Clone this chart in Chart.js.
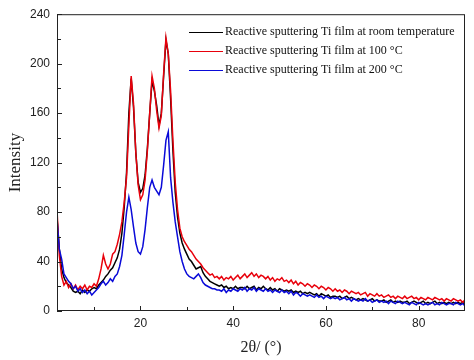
<!DOCTYPE html>
<html>
<head>
<meta charset="utf-8">
<script src="https://cdn.jsdelivr.net/npm/chart.js@4.4.1/dist/chart.umd.min.js"></script>
<style>
    html, body { margin: 0; padding: 0; background: #fff; }
</style>
</head>
<body>
<canvas id="xrdChart" width="474" height="360"></canvas>
<script>
let twoTheta = [
    2, 2.5, 3, 3.5, 4, 4.5, 5, 5.5, 6, 6.5, 7, 7.5, 8, 8.5, 9, 9.5, 10, 10.5, 11, 11.5,
    12, 12.5, 13, 13.5, 14, 14.5, 15, 15.5, 16, 16.5, 17, 17.5, 18, 18.5, 19, 19.5, 20, 20.5, 21, 21.5,
    22, 22.5, 23, 23.5, 24, 24.5, 25, 25.5, 26, 26.5, 27, 27.5, 28, 28.5, 29, 29.5, 30, 30.5, 31, 31.5,
    32, 32.5, 33, 33.5, 34, 34.5, 35, 35.5, 36, 36.5, 37, 37.5, 38, 38.5, 39, 39.5, 40, 40.5, 41, 41.5,
    42, 42.5, 43, 43.5, 44, 44.5, 45, 45.5, 46, 46.5, 47, 47.5, 48, 48.5, 49, 49.5, 50, 50.5, 51, 51.5,
    52, 52.5, 53, 53.5, 54, 54.5, 55, 55.5, 56, 56.5, 57, 57.5, 58, 58.5, 59, 59.5, 60, 60.5, 61, 61.5,
    62, 62.5, 63, 63.5, 64, 64.5, 65, 65.5, 66, 66.5, 67, 67.5, 68, 68.5, 69, 69.5, 70, 70.5, 71, 71.5,
    72, 72.5, 73, 73.5, 74, 74.5, 75, 75.5, 76, 76.5, 77, 77.5, 78, 78.5, 79, 79.5, 80, 80.5, 81, 81.5,
    82, 82.5, 83, 83.5, 84, 84.5, 85, 85.5, 86, 86.5, 87, 87.5, 88, 88.5, 89, 89.5, 90
];

let roomTemp = [
    76, 50, 34, 27, 23, 21, 19, 16, 15, 16, 14, 17, 15, 17, 16, 18, 19, 18, 21, 23,
    25, 28, 30, 33, 35, 39, 43, 50, 63, 84, 112, 160, 188, 165, 128, 104, 96, 99, 110, 132,
    160, 186, 178, 166, 150, 160, 190, 219, 208, 172, 130, 96, 76, 63, 55, 50, 46, 42, 40, 37,
    34, 35, 36, 31, 28, 26, 24, 23, 22, 21, 20, 21, 19, 20, 18, 19, 18, 20, 18, 19,
    19, 18, 20, 18, 19, 20, 17, 19, 18, 20, 18, 17, 19, 17, 18, 16, 18, 17, 16, 17,
    16, 17, 15, 16, 15, 16, 14, 15, 14, 15, 14, 13, 14, 12, 14, 13, 12, 13, 11, 12,
    12, 11, 12, 10, 11, 12, 10, 11, 10, 9, 10, 9, 10, 9, 8, 9, 10, 8, 9, 8,
    8, 9, 7, 8, 9, 7, 8, 7, 8, 7, 7, 8, 6, 7, 8, 7, 6, 7, 8, 6,
    7, 6, 7, 8, 6, 7, 6, 7, 6, 7, 6, 7, 6, 7, 6, 7, 5
];

let temp100 = [
    82, 45, 28, 21, 24, 19, 22, 18, 21, 17, 20, 18, 21, 17, 20, 19, 22, 20, 26, 34,
    45, 38, 34, 38, 46, 48, 54, 62, 72, 88, 108, 150, 190, 168, 128, 102, 90, 94, 106, 130,
    160, 190, 180, 162, 148, 158, 192, 221, 208, 178, 138, 104, 82, 67, 60, 56, 53, 50, 48, 45,
    42, 40, 38, 35, 33, 31, 29, 30, 27, 28, 26, 28, 25, 27, 26, 28, 25, 27, 29, 26,
    28, 30, 27, 29, 31, 28, 30, 27, 29, 28, 26, 28, 25, 27, 24, 26, 25, 27, 24, 25,
    23, 25, 22, 24, 21, 23, 22, 20, 22, 21, 19, 21, 20, 18, 20, 19, 17, 19, 18, 16,
    18, 16, 17, 15, 17, 16, 14, 16, 15, 14, 15, 13, 14, 15, 12, 14, 13, 12, 14, 12,
    13, 11, 12, 13, 11, 12, 10, 12, 11, 10, 12, 10, 11, 12, 10, 11, 9, 11, 10, 9,
    11, 10, 9, 11, 10, 9, 10, 8, 10, 9, 8, 10, 9, 8, 9, 7, 9
];

let temp200 = [
    74, 50, 42, 30, 27, 24, 22, 18, 20, 16, 18, 15, 17, 14, 16, 13, 15, 17, 19, 22,
    24, 21, 23, 26, 24, 28, 30, 36, 45, 62, 80, 92, 82, 68, 55, 48, 46, 52, 66, 84,
    100, 106, 100, 97, 94, 100, 118, 138, 145, 108, 88, 72, 60, 48, 40, 34, 30, 28, 27, 26,
    28, 30, 27, 23, 21, 20, 19, 18, 18, 17, 17, 16, 18, 15, 17, 16, 18, 17, 16, 18,
    17, 19, 16, 18, 17, 19, 16, 18, 17, 16, 18, 16, 17, 15, 17, 16, 15, 17, 15, 16,
    14, 16, 13, 15, 14, 12, 14, 13, 12, 13, 12, 11, 13, 11, 12, 10, 12, 11, 10, 11,
    10, 11, 9, 10, 11, 9, 10, 8, 10, 9, 8, 9, 8, 10, 8, 9, 7, 8, 9, 7,
    8, 7, 8, 6, 8, 7, 6, 8, 7, 6, 7, 6, 5, 7, 6, 5, 7, 6, 5, 6,
    5, 6, 7, 5, 6, 5, 7, 6, 5, 6, 6, 5, 7, 6, 5, 6, 4
];

let seriesLabels = [
    "Reactive sputtering Ti film at room temperature",
    "Reactive sputtering Ti film at 100 \u00B0C",
    "Reactive sputtering Ti film at 200 \u00B0C",
];
let seriesColors = ["#000000", "#e8000b", "#0a0ad8"];

let xTicks = [20, 40, 60, 80];
let xMinorTicks = [10, 30, 50, 70];
let yTicks = [0, 40, 80, 120, 160, 200, 240];
let yMinorTicks = [20, 60, 100, 140, 180, 220];

function toPoints(values) {
    return twoTheta.map((x, i) => ({ x: x, y: values[i] }));
}

// frame round the plot plus inward tick marks like the original graph
const frameAndTicks = {
    id: "frameAndTicks",
    afterDatasetsDraw(chart) {
        const { ctx, chartArea: a, scales: { x, y } } = chart;
        ctx.save();
        ctx.strokeStyle = "#222";
        ctx.lineWidth = 1;
        ctx.strokeRect(a.left + 0.5, a.top + 0.5, a.right - a.left - 1, a.bottom - a.top - 1);

        ctx.beginPath();
        xTicks.concat(xMinorTicks).forEach(v => {
            let px = Math.round(x.getPixelForValue(v)) + 0.5;
            let len = xTicks.includes(v) ? 5 : 4;
            ctx.moveTo(px, a.bottom);
            ctx.lineTo(px, a.bottom - len);
        });
        yTicks.concat(yMinorTicks).forEach(v => {
            let py = Math.round(y.getPixelForValue(v)) + 0.5;
            let len = yTicks.includes(v) ? 5 : 4;
            ctx.moveTo(a.left, py);
            ctx.lineTo(a.left + len, py);
        });
        ctx.stroke();
        ctx.restore();
    }
};

// legend drawn inside the plot, top right
const innerLegend = {
    id: "innerLegend",
    afterDraw(chart) {
        const { ctx } = chart;
        ctx.save();
        ctx.font = "12px 'Liberation Serif', 'Times New Roman', serif";
        ctx.textBaseline = "middle";
        chart.data.datasets.forEach((ds, i) => {
            let yy = 32 + i * 19;
            ctx.strokeStyle = ds.borderColor;
            ctx.lineWidth = 1.2;
            ctx.beginPath();
            ctx.moveTo(189, yy + 0.5);
            ctx.lineTo(223, yy + 0.5);
            ctx.stroke();
            ctx.fillStyle = "#111";
            ctx.fillText(ds.label, 225, yy);
        });
        ctx.restore();
    }
};

let ctx = document.getElementById("xrdChart");

new Chart(ctx, {
    type: "line",
    data: {
        datasets: [
            { label: seriesLabels[0], data: toPoints(roomTemp), borderColor: seriesColors[0], order: 3 },
            { label: seriesLabels[1], data: toPoints(temp100), borderColor: seriesColors[1], order: 2 },
            { label: seriesLabels[2], data: toPoints(temp200), borderColor: seriesColors[2], order: 1 },
        ],
    },
    options: {
        responsive: false,
        animation: false,
        layout: { padding: { top: 10, right: 9, left: 0, bottom: 0 } },
        elements: {
            point: { radius: 0 },
            line: { borderWidth: 1.5, tension: 0 },
        },
        plugins: {
            legend: { display: false },
            tooltip: { enabled: false },
        },
        scales: {
            x: {
                type: "linear",
                min: 2,
                max: 90,
                afterBuildTicks: (scale) => { scale.ticks = xTicks.map(v => ({ value: v })); },
                afterFit: (scale) => { scale.height = 49; },
                border: { display: false },
                grid: { drawOnChartArea: false, drawTicks: false },
                ticks: {
                    padding: 5,
                    color: "#222",
                    font: { family: "'Liberation Sans', Arial, sans-serif", size: 12 },
                },
                title: {
                    display: true,
                    text: "2\u03B8/ (\u00B0)",
                    color: "#222",
                    padding: { top: 0, bottom: 3 },
                    font: { family: "'Liberation Serif', 'Times New Roman', serif", size: 16 },
                },
            },
            y: {
                min: 0,
                max: 240,
                afterBuildTicks: (scale) => { scale.ticks = yTicks.map(v => ({ value: v })); },
                afterFit: (scale) => { scale.width = 57; },
                border: { display: false },
                grid: { drawOnChartArea: false, drawTicks: false },
                ticks: {
                    padding: 7,
                    color: "#222",
                    font: { family: "'Liberation Sans', Arial, sans-serif", size: 12 },
                },
                title: {
                    display: true,
                    text: "Intensity",
                    color: "#222",
                    padding: { top: 5, bottom: 0 },
                    font: { family: "'Liberation Serif', 'Times New Roman', serif", size: 17 },
                },
            },
        },
    },
    plugins: [frameAndTicks, innerLegend],
});
</script>
</body>
</html>
